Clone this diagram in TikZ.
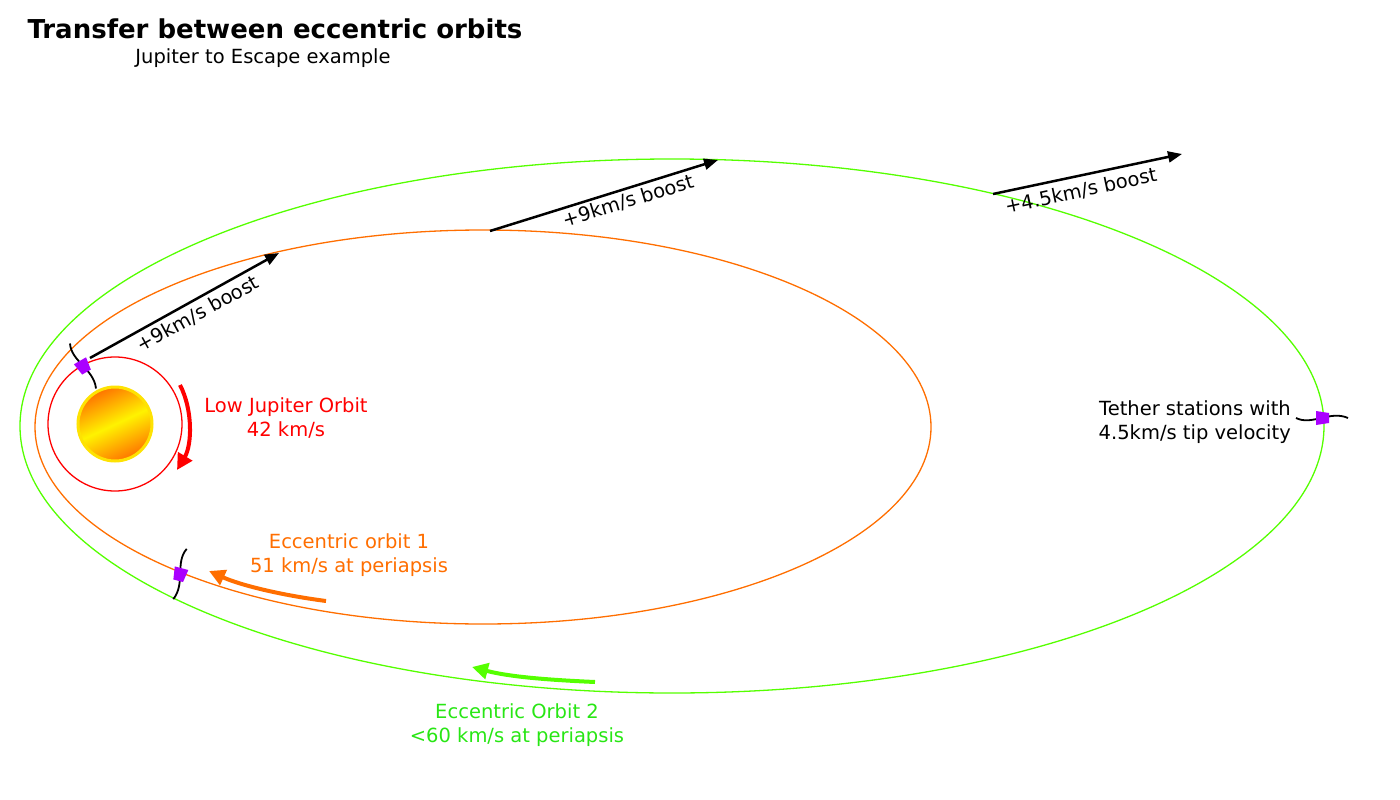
\documentclass[tikz,border=0pt]{standalone}
\usepackage{fontspec}
\setmainfont{DejaVu Sans}
\usetikzlibrary{arrows.meta}
\definecolor{gorb}{RGB}{85,255,0}
\definecolor{gtxt}{RGB}{40,230,20}
\definecolor{oorb}{RGB}{255,110,0}
\definecolor{purp}{RGB}{170,0,255}
\tikzset{
 boost/.style={line width=2.5pt,-{Triangle[length=14pt,width=11pt]}},
 motion/.style={line width=4pt,-{Triangle[length=16pt,width=16pt]}},
 lbl/.style={font=\fontsize{19.5}{23.5}\selectfont,align=center,inner sep=1pt},
}
\newcommand{\station}[2]{% pos, rotation
 \begin{scope}[shift={#1},rotate=#2]
 \draw[line width=1.8pt] (0,-26) .. controls (-8,-10) and (8,8) .. (0,26);
 \fill[purp] (-7,-6) -- (7,-6) -- (5,7) -- (-5,7) -- cycle;
 \end{scope}}
\begin{document}
\begin{tikzpicture}[x=1pt,y=-1pt]
\useasboundingbox (0,0) rectangle (1400,800);
\node[anchor=west,font=\bfseries\fontsize{26}{30}\selectfont] (title) at (24,29) {Transfer between eccentric orbits};
\node[font=\fontsize{19.5}{23}\selectfont] (sub) at (263,58) {Jupiter to Escape example};
\draw[gorb,line width=1.3pt] (672,426) ellipse [x radius=652,y radius=267];
\draw[oorb,line width=1.3pt] (483,427) ellipse [x radius=448,y radius=197];
\draw[red,line width=1.3pt] (115,424) circle (67);
\shade[left color=orange!90!red,right color=orange!90!red,middle color=yellow!90!orange,shading angle=25] (115,424) circle (37);
\draw[yellow!85!orange,line width=3pt] (115,424) circle (37);
\station{(83,366)}{30}
\station{(180,574)}{-15}
\station{(1322,418)}{90}
\coordinate (a1) at (90,358); \coordinate (b1) at (279,253);
\coordinate (a2) at (490,231); \coordinate (b2) at (718,160);
\coordinate (a3) at (993,194); \coordinate (b3) at (1182,154);
\draw[boost] (a1) -- (b1);
\draw[boost] (a2) -- (b2);
\draw[boost] (a3) -- (b3);
\node[lbl,rotate=29] (l1) at (198,314) {+9km/s boost};
\node[lbl,rotate=17] (l2) at (628,201) {+9km/s boost};
\node[lbl,rotate=12] (l3) at (1081,191) {+4.5km/s boost};
\coordinate (r1) at (180,385); \coordinate (r2) at (177,470);
\draw[red,motion] (r1) .. controls (193,410) and (192,445) .. (r2);
\coordinate (o1) at (326,601); \coordinate (o2) at (209,571);
\draw[oorb,motion] (o1) .. controls (280,595) and (240,585) .. (o2);
\coordinate (g1) at (595,682); \coordinate (g2) at (472,667);
\draw[gorb,motion] (g1) .. controls (550,680) and (510,677) .. (g2);
\node[lbl,text=red] (t1) at (286,418) {Low Jupiter Orbit\\42 km/s};
\node[lbl,text=oorb] (t2) at (349,555) {Eccentric orbit 1\\51 km/s at periapsis};
\node[lbl,text=gtxt] (t3) at (517,725) {Eccentric Orbit 2\\<60 km/s at periapsis};
\node[lbl,align=right,anchor=east] (t4) at (1292,422) {Tether stations with\\4.5km/s tip velocity};
\end{tikzpicture}
\end{document}
